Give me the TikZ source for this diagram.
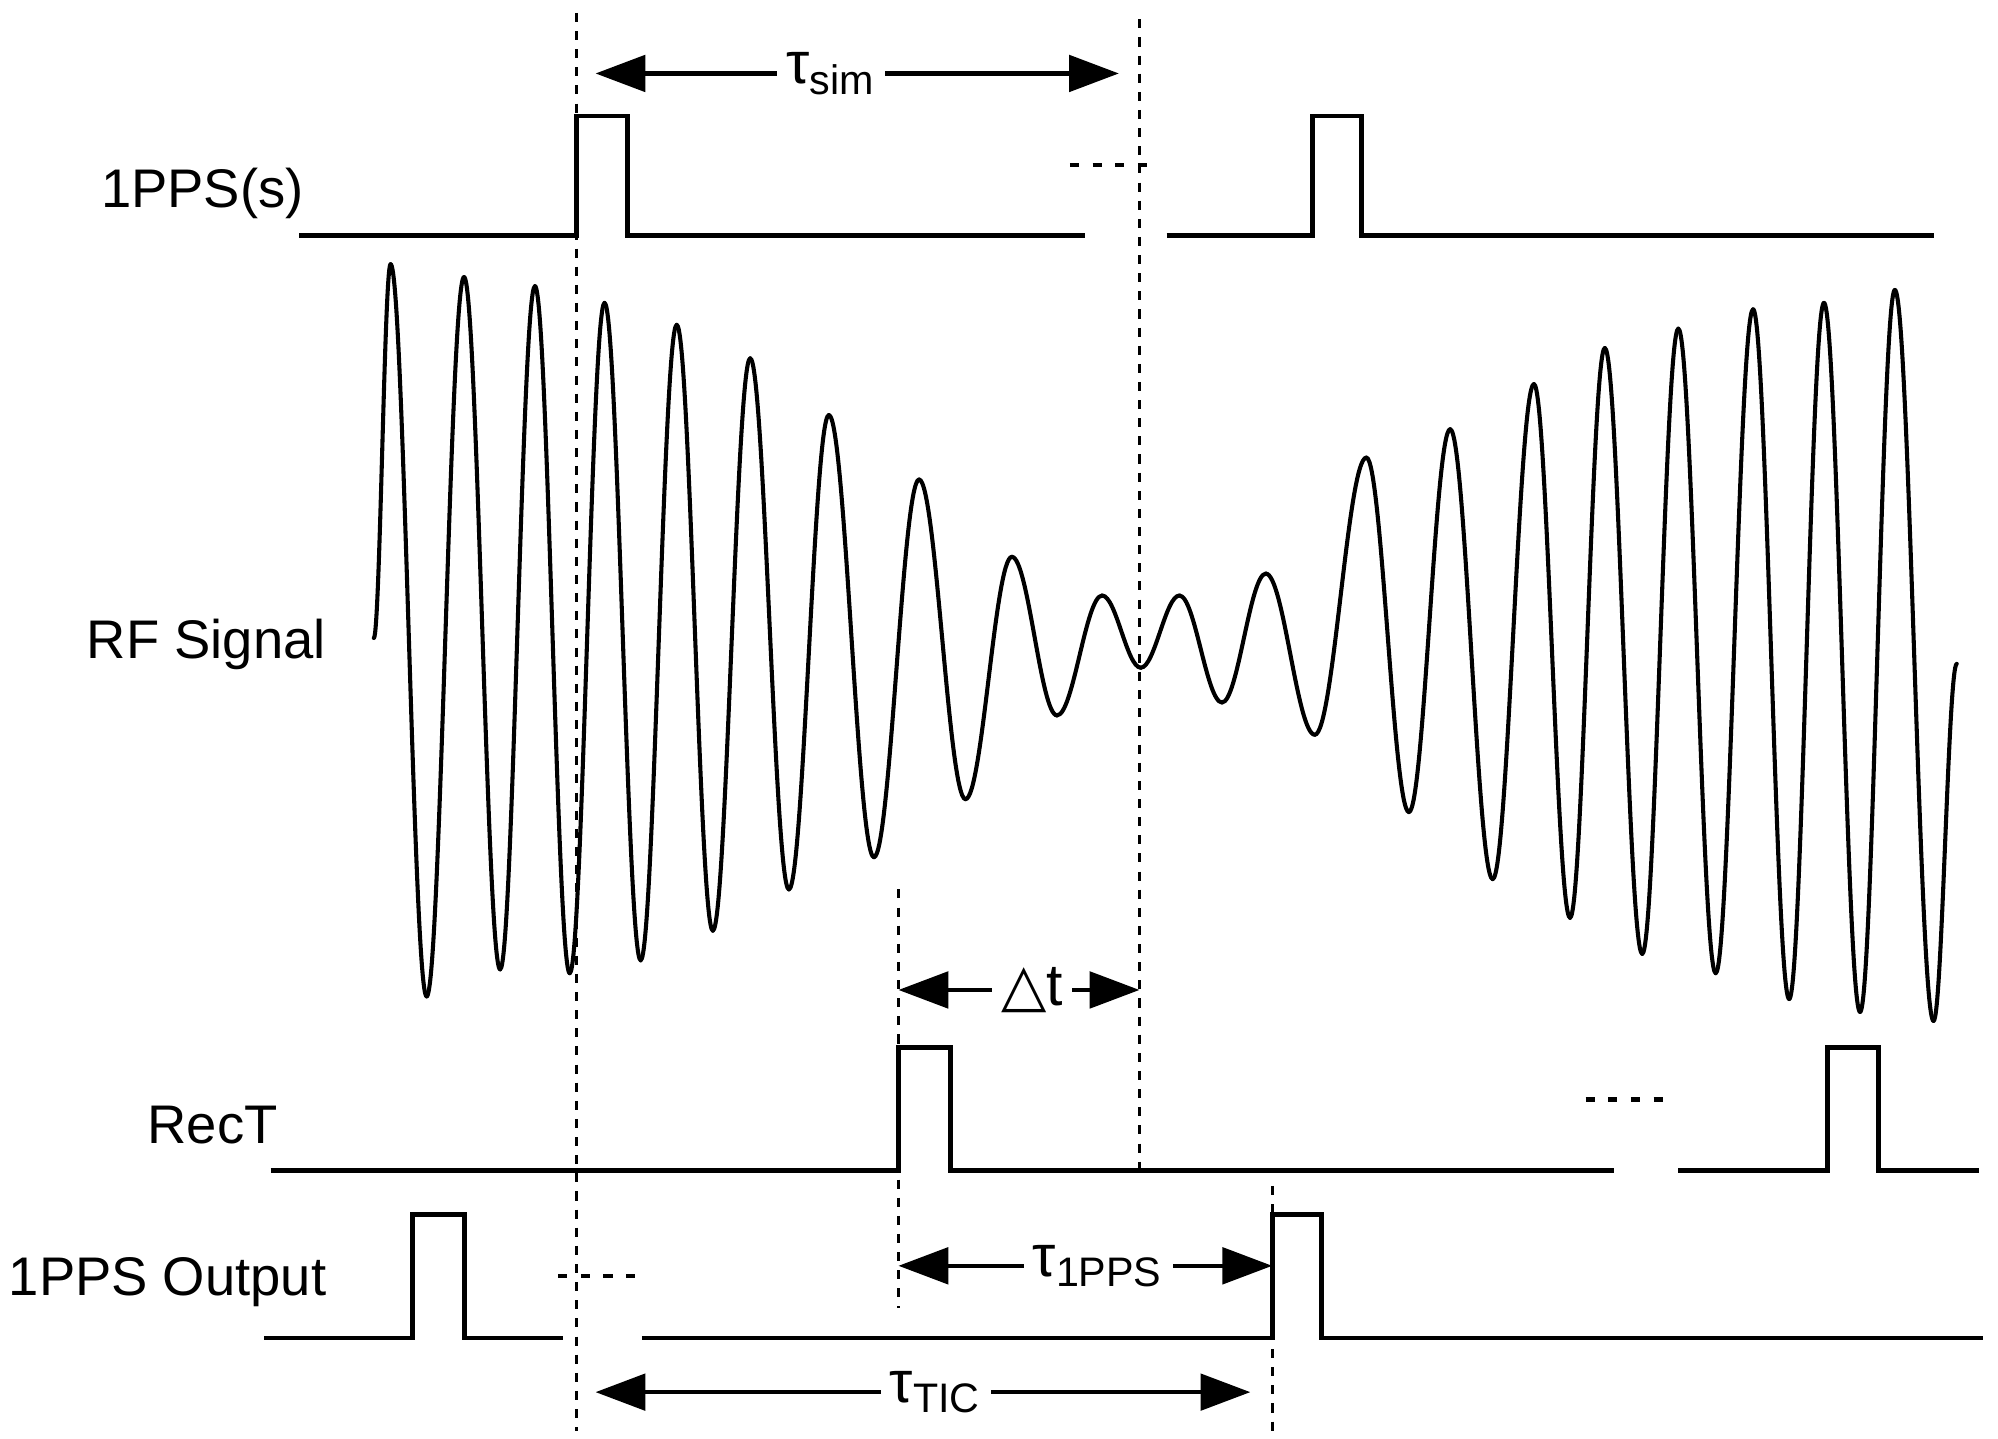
\documentclass[tikz,border=0pt]{standalone}
\usepackage{fontspec}
\setmainfont{Liberation Sans}
\newfontfamily\djv{DejaVu Sans}
\usetikzlibrary{arrows.meta}
\begin{document}
\begin{tikzpicture}[x=0.01cm,y=-0.01cm,
  sig/.style={line width=1.1pt},
  vdash/.style={densely dashed,dash pattern=on 2pt off 2pt,line width=0.7pt},
  dots/.style={line width=1pt,dash pattern=on 2pt off 3pt},
  dim/.style={line width=1pt,{Triangle[length=11pt,width=8pt]}-{Triangle[length=11pt,width=8pt]}},
  lab/.style={font=\fontsize{12pt}{14pt}\selectfont},
  dl/.style={font=\fontsize{13pt}{15pt}\selectfont,fill=white,inner sep=2pt}]
\useasboundingbox (0,0) rectangle (1550,1116);
% dashed verticals
\draw[vdash] (447,10) -- (447,1110);
\draw[vdash] (884,15) -- (884,910);
\draw[vdash] (697,690) -- (697,1015);
\draw[vdash] (987,920) -- (987,1110);
% 1PPS(s)
\node[lab] (l1) at (157,150) {1PPS(s)};
\draw[sig] (232,183) -- (447,183) -- (447,90) -- (487,90) -- (487,183) -- (842,183);
\draw[sig] (905,183) -- (1018,183) -- (1018,90) -- (1056,90) -- (1056,183) -- (1500,183);
\draw[dots] (830,128) -- (893,128);
\coordinate (s1) at (462,57); \coordinate (s2) at (868,57);
\draw[dim] (s1) -- (s2) node[dl,midway,xshift=-0.2cm] {τ\textsubscript{sim}};
% RF
\node[lab] (l2) at (160,500) {RF Signal};
\foreach \x/\y [remember=\x as \lx (initially 290), remember=\y as \ly (initially 495)] in {
303/205,331/773,360/215,388/752,415/222,442/755,469/235,497/745,
525/252,553/722,582/278,612/690,643/322,678/665,713/372,749/620,785/432,
820/555,855/462,885/518,915/462,948/545,982/445,1020/570,1060/355,1093/630,
1125/333,1158/682,1190/298,1218/712,1245/270,1274/740,1302/255,1331/755,
1360/240,1388/775,1415/235,1443/785,1470/225,1500/792,1518/515}{
  \pgfmathsetmacro\ca{\lx+0.363*(\x-\lx)}
  \pgfmathsetmacro\cb{\x-0.363*(\x-\lx)}
  \draw[line width=0.9pt,line cap=round] (\lx,\ly) .. controls (\ca,\ly) and (\cb,\y) .. (\x,\y);
}
% delta t
\coordinate (d1) at (697,768); \coordinate (d2) at (884,768);
\draw[dim] (d1) -- (d2) node[dl,midway,xshift=0.1cm] {{\djv△}t};
% RecT
\node[lab] (l3) at (165,873) {RecT};
\draw[sig] (210,908) -- (697,908) -- (697,813) -- (737,813) -- (737,908) -- (1252,908);
\draw[sig] (1302,908) -- (1418,908) -- (1418,813) -- (1457,813) -- (1457,908) -- (1535,908);
\draw[dots] (1230,853) -- (1292,853);
% 1PPS output
\node[lab] (l4) at (130,995) {1PPS Output};
\draw[sig] (205,1038) -- (320,1038) -- (320,942) -- (360,942) -- (360,1038) -- (437,1038);
\draw[sig] (498,1038) -- (987,1038) -- (987,942) -- (1025,942) -- (1025,1038) -- (1538,1038);
\draw[dots] (433,990) -- (493,990);
\coordinate (p1) at (697,982); \coordinate (p2) at (987,982);
\draw[dim] (p1) -- (p2) node[dl,midway,xshift=0.1cm] {τ\textsubscript{1PPS}};
\coordinate (t1) at (462,1080); \coordinate (t2) at (970,1080);
\draw[dim] (t1) -- (t2) node[dl,midway,xshift=0.1cm] {τ\textsubscript{TIC}};
\end{tikzpicture}
\end{document}
